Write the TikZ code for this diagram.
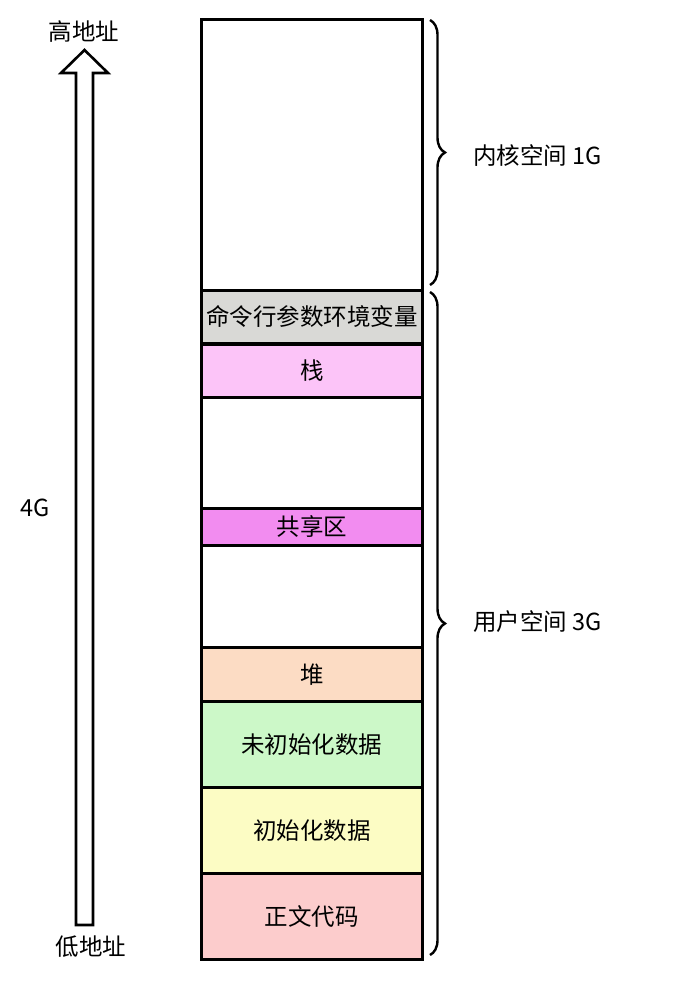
\documentclass[tikz,border=0pt]{standalone}
\usepackage{fontspec}
\setmainfont{Noto Sans CJK SC}
\usetikzlibrary{decorations.pathreplacing}
\definecolor{cgray}{HTML}{D9D9D6}
\definecolor{cpink}{HTML}{FCC4F8}
\definecolor{cmag}{HTML}{F28CF0}
\definecolor{cpeach}{HTML}{FCDCC4}
\definecolor{cgreen}{HTML}{CCF8C8}
\definecolor{cyellow}{HTML}{FCFCC4}
\definecolor{cred}{HTML}{FCCCCC}
\begin{document}
\begin{tikzpicture}[x=1pt,y=-1pt,
  seg/.style={draw,line width=2.8pt,minimum width=221pt,inner sep=0pt,anchor=north west,font=\fontsize{23.5}{24}\selectfont},
  lab/.style={font=\fontsize{23.5}{24}\selectfont,inner sep=0pt},
  brace/.style={draw,line width=2.4pt,decorate,decoration={brace,amplitude=15pt}}]
\useasboundingbox (0,0) rectangle (675,989);
\fill[white] (0,0) rectangle (675,989);
\node[seg,minimum height=271pt] (k) at (200,18) {};
\node[seg,minimum height=53pt,fill=cgray] (cmd) at (200,289) {命令行参数环境变量};
\node[seg,minimum height=53pt,fill=cpink] (st) at (200,343) {栈};
\node[seg,minimum height=111pt] (g1) at (200,396) {};
\node[seg,minimum height=37pt,fill=cmag] (sh) at (200,507) {共享区};
\node[seg,minimum height=102pt] (g2) at (200,544) {};
\node[seg,minimum height=54pt,fill=cpeach] (hp) at (200,646) {堆};
\node[seg,minimum height=86pt,fill=cgreen] (bss) at (200,700) {未初始化数据};
\node[seg,minimum height=86pt,fill=cyellow] (dat) at (200,786) {初始化数据};
\node[seg,minimum height=86pt,fill=cred] (txt) at (200,872) {正文代码};
\draw[brace] (430,20) -- (430,285) coordinate[midway] (b1);
\draw[brace] (430,292) -- (430,955) coordinate[midway] (b2);
\node[lab,anchor=west] (l1) at (473,156) {内核空间 1G};
\node[lab,anchor=west] (l2) at (473,622) {用户空间 3G};
\draw[line width=2.6pt,line join=miter] (76,925) -- (93,925) -- (93,73) -- (108,73) -- (84.5,50) -- (61,73) -- (76,73) -- cycle;
\node[lab] (hi) at (84,32) {高地址};
\node[lab] (lo) at (91,947) {低地址};
\node[lab] (g4) at (35,508) {4G};
\end{tikzpicture}
\end{document}
